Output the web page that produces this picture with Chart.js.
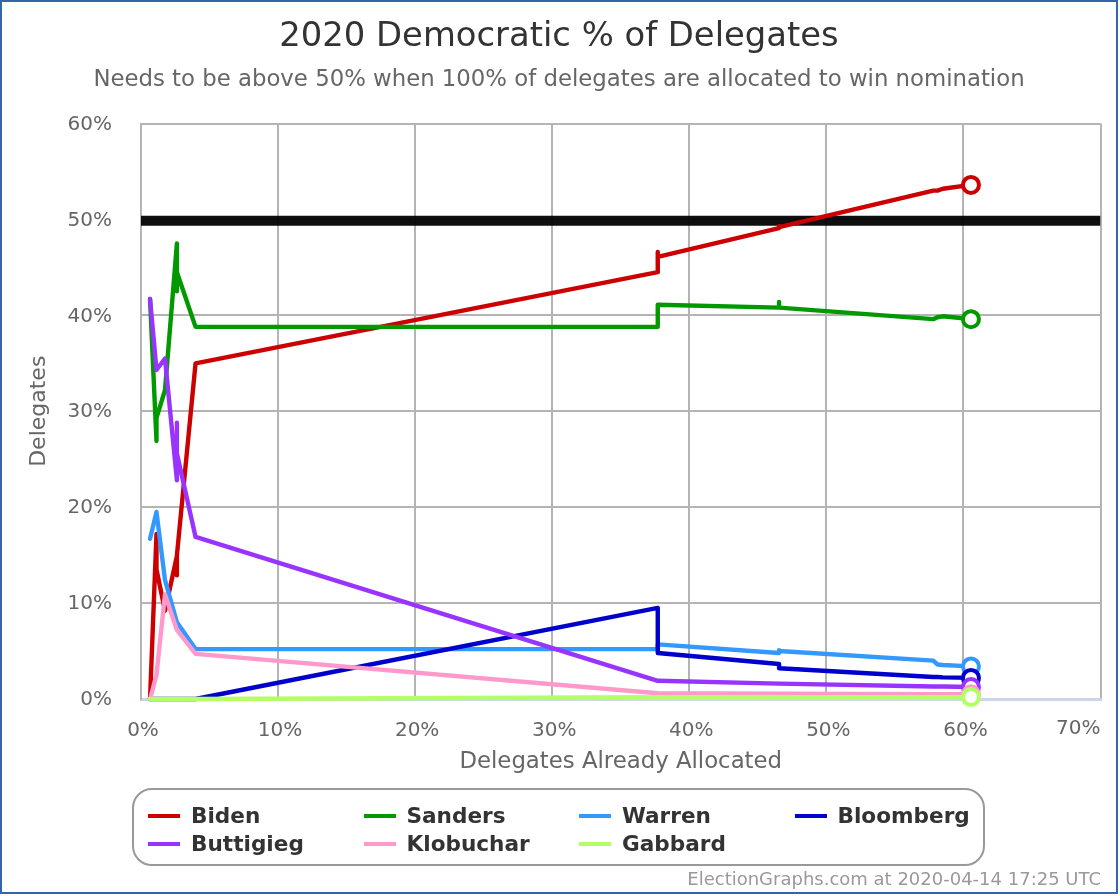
<!DOCTYPE html>
<html>
<head>
<meta charset="utf-8">
<title>2020 Democratic % of Delegates</title>
<script src="https://cdn.jsdelivr.net/npm/chart.js@4/dist/chart.umd.min.js"></script>
<style>
html, body { margin: 0; padding: 0; background: #fff; }
#frame { position: relative; width: 1118px; height: 894px; box-sizing: border-box; border: 2px solid #3465ac; font-family: "DejaVu Sans", sans-serif; overflow: hidden; }
#chart { display: block; }
#legend { position: absolute; left: 130px; top: 786px; width: 853px; height: 78px; box-sizing: border-box; border: 2px solid #999; border-radius: 20px; }
.item { position: absolute; font-size: 21.6px; font-weight: bold; color: #333; line-height: 28px; white-space: nowrap; padding-left: 43px; }
.item i { position: absolute; left: 0; top: 12px; width: 32px; height: 4px; }
#credit { position: absolute; right: 15px; top: 867px; font-size: 18px; color: #999; line-height: 20px; white-space: nowrap; }
</style>
</head>
<body>
<div id="frame">
	<canvas id="chart" width="1114" height="890"></canvas>
	<div id="legend"></div>
	<div id="credit">ElectionGraphs.com at 2020-04-14 17:25 UTC</div>
</div>
<script>
const allocated = [0.66, 1.13, 1.13, 1.75, 2.62, 2.62, 2.62, 3.98, 37.7, 37.7, 37.7, 46.55, 46.55, 46.55, 57.8, 58.1, 58.5, 60.55];
const biden = [0, 17.2, 13.5, 9.2, 14.9, 12.9, 15.0, 35.0, 44.5, 46.6, 46.1, 49.1, 49.3, 49.2, 53.0, 53.0, 53.2, 53.6];
const sanders = [41.7, 26.9, 29.3, 32.2, 47.5, 42.5, 44.5, 38.8, 38.8, 41.1, 41.1, 40.8, 41.4, 40.8, 39.6, 39.8, 39.9, 39.6];
const warren = [16.7, 19.5, 19.5, 12.4, 8.0, 8.0, 8.0, 5.2, 5.2, 5.7, 5.7, 4.8, 5.1, 5.0, 4.0, 3.6, 3.55, 3.4];
const bloomberg = [0, 0, 0, 0, 0, 0, 0, 0, 9.5, 4.8, 4.8, 3.65, 3.2, 3.2, 2.3, 2.3, 2.25, 2.2];
const buttigieg = [41.7, 34.3, 34.3, 35.5, 22.8, 28.8, 25.6, 16.9, 1.9, 1.9, 1.9, 1.6, 1.6, 1.6, 1.3, 1.3, 1.3, 1.25];
const klobuchar = [0, 2.5, 2.5, 10.9, 7.2, 7.2, 7.2, 4.7, 0.6, 0.6, 0.6, 0.55, 0.55, 0.55, 0.5, 0.5, 0.5, 0.5];
const gabbard = [0, 0, 0, 0, 0, 0, 0, 0, 0.2, 0.2, 0.2, 0.2, 0.2, 0.2, 0.2, 0.2, 0.2, 0.2];
const names = ['Biden', 'Sanders', 'Warren', 'Bloomberg', 'Buttigieg', 'Klobuchar', 'Gabbard'];
const colors = ['#cc0000', '#009900', '#3399ff', '#0000cc', '#9933ff', '#ff99cc', '#b3ff66'];
const thresholdX = [0, 70];
const thresholdY = [49.85, 49.85];

const greyGrid = '#b4b4b4';
const series = [biden, sanders, warren, bloomberg, buttigieg, klobuchar, gabbard];

const datasets = series.map((values, i) => ({
	label: names[i],
	data: values.map((v, j) => ({ x: allocated[j], y: v })),
	borderColor: colors[i],
	backgroundColor: '#fff',
	borderWidth: 4.4,
	borderJoinStyle: 'round',
	borderCapStyle: 'round',
	pointBorderWidth: 4,
	pointRadius: c => c.dataIndex === allocated.length - 1 ? 8 : 0,
	pointHoverRadius: 8,
	clip: false,
	tension: 0,
	order: series.length - i
}));

datasets.push({
	label: '50%',
	data: thresholdX.map((x, j) => ({ x: x, y: thresholdY[j] })),
	borderColor: 'rgba(0,0,0,0.94)',
	borderWidth: 10,
	pointRadius: 0,
	order: series.length + 1
});

// 70% is right aligned to the plot edge in the original, so it is placed by hand
const lastTickLabel = {
	id: 'lastTickLabel',
	afterDraw(chart) {
		const ctx = chart.ctx;
		ctx.save();
		ctx.font = '20px "DejaVu Sans"';
		ctx.fillStyle = '#666';
		ctx.textBaseline = 'middle';
		ctx.textAlign = 'right';
		ctx.fillText('70%', chart.scales.x.getPixelForValue(70), chart.chartArea.bottom + 30);
		ctx.restore();
	}
};

const chart = new Chart(document.getElementById('chart').getContext('2d'), {
	type: 'line',
	data: { datasets: datasets },
	plugins: [lastTickLabel],
	options: {
		responsive: false,
		animation: false,
		layout: { autoPadding: false, padding: { left: 15.5, right: 15.5, top: 0, bottom: 116 } },
		plugins: {
			legend: { display: false },
			tooltip: { enabled: false },
			title: {
				display: true,
				text: '2020 Democratic % of Delegates',
				color: '#333',
				font: { family: '"DejaVu Sans"', size: 33.8, weight: 'normal', lineHeight: 1.2 },
				padding: { top: 15, bottom: 9 }
			},
			subtitle: {
				display: true,
				text: 'Needs to be above 50% when 100% of delegates are allocated to win nomination',
				color: '#666',
				font: { family: '"DejaVu Sans"', size: 22.8, weight: 'normal', lineHeight: 1.2 },
				padding: { top: 0, bottom: 29.58 }
			}
		},
		scales: {
			x: {
				type: 'linear',
				min: 0,
				max: 70,
				afterFit(scale) { scale.height = 77; },
				grid: { color: greyGrid, lineWidth: 2, drawTicks: true, tickLength: 8, tickColor: 'transparent' },
				border: { color: '#ccd6eb', width: 3 },
				ticks: {
					stepSize: 10,
					padding: 12,
					maxRotation: 0,
					autoSkip: false,
					labelOffset: 2,
					color: '#666',
					font: { family: '"DejaVu Sans"', size: 20 },
					callback: v => v === 70 ? '' : v + '%'
				},
				title: {
					display: true,
					text: 'Delegates Already Allocated',
					color: '#666',
					font: { family: '"DejaVu Sans"', size: 22.8 },
					padding: 0
				}
			},
			y: {
				min: 0,
				max: 60,
				afterFit(scale) { scale.width = 123.5; },
				grid: { color: greyGrid, lineWidth: 2, drawTicks: false },
				border: { color: greyGrid, width: 2 },
				ticks: {
					stepSize: 10,
					padding: 29,
					labelOffset: 1,
					color: '#666',
					font: { family: '"DejaVu Sans"', size: 20 },
					callback: v => v + '%'
				},
				title: {
					display: true,
					text: 'Delegates',
					color: '#666',
					font: { family: '"DejaVu Sans"', size: 22 },
					padding: { top: 8.5, bottom: 0 }
				}
			}
		}
	}
});

const legendBox = document.getElementById('legend');
names.forEach((name, i) => {
	const item = document.createElement('div');
	item.className = 'item';
	item.style.left = (14 + (i % 4) * 215.5) + 'px';
	item.style.top = (12 + Math.floor(i / 4) * 28) + 'px';
	item.innerHTML = '<i style="background:' + colors[i] + '"></i>' + name;
	legendBox.appendChild(item);
});
</script>
</body>
</html>
